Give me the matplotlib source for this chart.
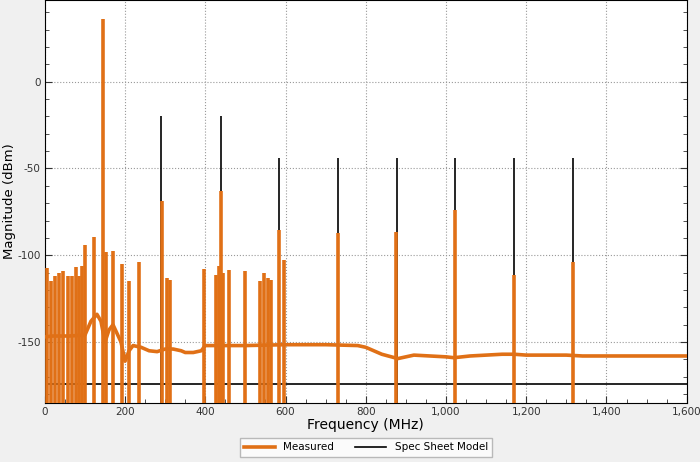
import matplotlib
matplotlib.use("Agg")
import matplotlib.pyplot as plt
from matplotlib.ticker import FuncFormatter, MultipleLocator
plt.rcParams["axes.unicode_minus"] = False

floor_f = [0, 20, 60, 100, 115, 130, 140, 150, 160, 170, 180, 190, 200, 210, 220, 240, 260, 280, 300, 320, 340, 350, 370, 390, 400, 500, 600, 700, 780, 800, 840, 880, 920, 960, 1000, 1020, 1060, 1100, 1140, 1170, 1200, 1300, 1340, 1400, 1600]
floor_m = [-147, -146.5, -146.5, -146, -138, -134, -138, -150, -143, -140, -145, -150, -161, -155, -152, -153, -155, -155.5, -154, -154, -155, -156, -156, -155, -152, -152, -151.5, -151.5, -152, -153, -157, -159.5, -157.5, -158, -158.5, -159, -158, -157.5, -157, -157, -157.5, -157.5, -158, -158, -158]

spur_f = [6, 15, 25, 36, 46, 57, 67, 77, 86, 92, 101, 123, 145, 152, 170, 193, 209, 235, 293, 304, 313, 398, 427, 433, 439, 445, 459, 499, 537, 547, 556, 563, 585, 597, 731, 876, 1022, 1169, 1316]
spur_m = [-107.5, -115, -112, -110, -109, -112, -112, -106.5, -112, -106, -94, -89.5, 36, -98, -97.5, -105, -115, -104, -69, -113, -114, -108, -111.5, -106, -63, -110, -108.5, -109, -115, -110, -113, -114, -85.5, -103, -87, -86.4, -74, -111.5, -104]

spec_f = [290, 438, 585, 731, 877, 1022, 1170, 1316]
spec_m = [-20, -20, -44, -44, -44, -44, -44, -44]
spec_floor = -174

orange = "#e07016"
fig = plt.figure(figsize=(7, 4.62), dpi=100, facecolor="#f0f0f0")
ax = fig.add_axes([0.064, 0.128, 0.917, 0.872])
ymin, ymax = -185, 47
ax.set_xlim(0, 1600); ax.set_ylim(ymin, ymax)
ax.vlines(spec_f, ymin, spec_m, color="black", lw=1.2, zorder=2)
ax.axhline(spec_floor, color="black", lw=1.2, zorder=2)
ax.vlines(spur_f, ymin, spur_m, color=orange, lw=2.6, zorder=3)
ax.plot(floor_f, floor_m, color=orange, lw=2.6, zorder=3, label="Measured")
ax.plot([], [], color="black", lw=1.2, label="Spec Sheet Model")
ax.xaxis.set_major_locator(MultipleLocator(200)); ax.xaxis.set_minor_locator(MultipleLocator(50))
ax.yaxis.set_major_locator(MultipleLocator(50)); ax.yaxis.set_minor_locator(MultipleLocator(10))
ax.xaxis.set_major_formatter(FuncFormatter(lambda v, p: f"{int(v):,}"))
ax.tick_params(which="both", direction="in", top=False, right=True, labelsize=7.5, colors="#333333", pad=3)
ax.tick_params(which="major", length=5); ax.tick_params(which="minor", length=3)
ax.grid(True, which="major", ls=":", color="#999999", lw=0.8)
ax.set_xlabel("Frequency (MHz)", fontsize=10, labelpad=1)
ax.set_ylabel("Magnitude (dBm)", fontsize=9.5, labelpad=1)
fig.canvas.draw()
ax.get_xticklabels()[-1].set_horizontalalignment("right")
ax.legend(loc="upper center", bbox_to_anchor=(0.5, -0.075), ncol=2, fontsize=7.5, frameon=True, edgecolor="#aaaaaa", fancybox=False, handlelength=3)
fig.savefig("out.png", dpi=100, facecolor=fig.get_facecolor())
